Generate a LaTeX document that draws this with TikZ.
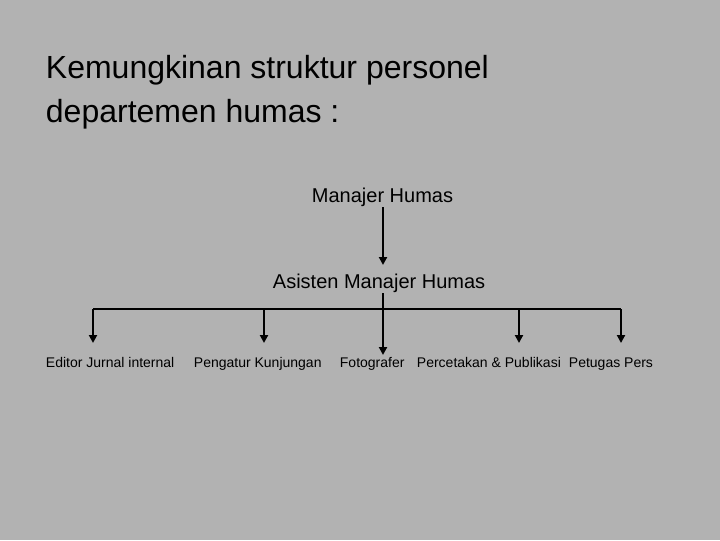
\documentclass[tikz,border=0pt]{standalone}
\usepackage{fontspec}
\setmainfont{Liberation Sans}
\usetikzlibrary{arrows.meta}

\definecolor{slidegray}{RGB}{178,178,178}

\begin{document}
\begin{tikzpicture}[x=0.75pt,y=0.75pt,yscale=-1,xscale=1,
  lbl/.style={inner sep=0.5pt,anchor=base west},
  arr/.style={line width=1.5pt,-{Triangle[length=6pt,width=6pt]}}]
%set diagram to the slide size 720 x 540
\useasboundingbox (0,0) rectangle (720,540);
\fill [slidegray] (0,0) rectangle (720,540);

%Title
\node [lbl,font=\fontsize{24}{29}\selectfont] (ttl1) at (45,78) {Kemungkinan struktur personel};
\node [lbl,font=\fontsize{24}{29}\selectfont] (ttl2) at (45,122) {departemen humas :};

%Top levels
\node [lbl,font=\fontsize{15}{18}\selectfont] (mgr) at (311,202) {Manajer Humas};
\node [lbl,font=\fontsize{15}{18}\selectfont] (asst) at (272,288) {Asisten Manajer Humas};

%Staff
\node [lbl,font=\fontsize{10.5}{13}\selectfont] (edt) at (45,367) {Editor Jurnal internal};
\node [lbl,font=\fontsize{10.5}{13}\selectfont] (kunj) at (193,367) {Pengatur Kunjungan};
\node [lbl,font=\fontsize{10.5}{13}\selectfont] (foto) at (339,367) {Fotografer};
\node [lbl,font=\fontsize{10.5}{13}\selectfont] (pub) at (416,367) {Percetakan \& Publikasi};
\node [lbl,font=\fontsize{10.5}{13}\selectfont] (pers) at (568,367) {Petugas Pers};

%Branch points and arrow tips
\coordinate (b1) at (93,309);  \coordinate (t1) at (93,343);
\coordinate (b2) at (264,309); \coordinate (t2) at (264,343);
\coordinate (t3) at (383,355);
\coordinate (b4) at (519,309); \coordinate (t4) at (519,343);
\coordinate (b5) at (621,309); \coordinate (t5) at (621,343);
\coordinate (a0) at (383,265);

%Straight Lines
\draw [arr] (mgr.south -| t3) -- (a0);
\draw [arr] (asst.south -| t3) -- (t3);
\draw [line width=1.1pt] (b1) -- (b5);
\draw [arr] (b1) -- (t1);
\draw [arr] (b2) -- (t2);
\draw [arr] (b4) -- (t4);
\draw [arr] (b5) -- (t5);

\end{tikzpicture}
\end{document}
